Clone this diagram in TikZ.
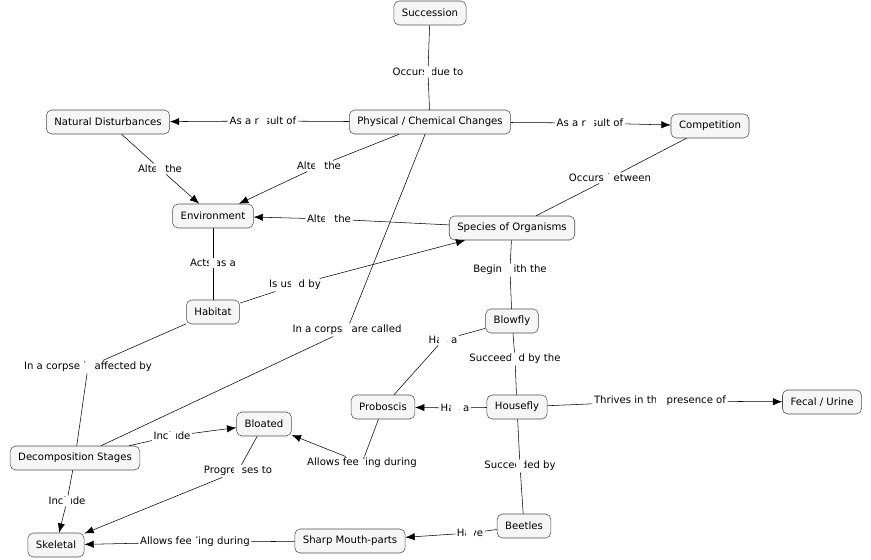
\documentclass[tikz,border=0pt]{standalone}
\usepackage{fontspec}
\setmainfont{DejaVu Sans}
\usetikzlibrary{arrows.meta}

\begin{document}
\begin{tikzpicture}[
  x=0.75pt, y=-0.75pt,
  concept/.style={
    draw=black!70,
    fill=cyan!4!gray!8,
    rounded corners=4pt,
    font=\fontsize{7.6pt}{9pt}\selectfont,
    inner xsep=6pt,
    minimum height=18pt,
  },
  link/.style={
    fill=white,
    inner sep=1pt,
    font=\fontsize{7.6pt}{9pt}\selectfont,
  },
  conn/.style={draw, thin},
  arr/.style={draw, thin, -{Latex[length=7pt,width=5.5pt]}},
]
\useasboundingbox (0,0) rectangle (871,560);

% Concepts
\node[concept] (succ) at (430,13) {Succession};
\node[concept] (phys) at (430,122) {Physical / Chemical Changes};
\node[concept] (natd) at (108,122) {Natural Disturbances};
\node[concept] (comp) at (710,126) {Competition};
\node[concept] (env) at (213,216) {Environment};
\node[concept] (spec) at (512,228) {Species of Organisms};
\node[concept] (hab) at (213,312) {Habitat};
\node[concept] (blow) at (512,321) {Blowfly};
\node[concept] (prob) at (383,407) {Proboscis};
\node[concept] (house) at (517,407) {Housefly};
\node[concept] (fecal) at (822,402) {Fecal / Urine};
\node[concept] (bloat) at (264,424) {Bloated};
\node[concept] (decomp) at (75,458) {Decomposition Stages};
\node[concept] (beet) at (524,526) {Beetles};
\node[concept] (sharp) at (350,541) {Sharp Mouth-parts};
\node[concept] (skel) at (56,545) {Skeletal};

% Linking phrases
\node[link] (l1) at (428,72) {Occurs due to};
\node[link] (l2) at (263,121) {As a result of};
\node[link] (l3) at (590,123) {As a result of};
\node[link] (l4) at (160,169) {Alter the};
\node[link] (l5) at (319,166) {Alter the};
\node[link] (l6) at (610,178) {Occurs between};
\node[link] (l7) at (329,219) {Alter the};
\node[link] (l8) at (213,263) {Acts as a};
\node[link] (l9) at (295,285) {Is used by};
\node[link] (l10) at (347,330) {In a corpse are called};
\node[link] (l11) at (510,270) {Begin with the};
\node[link] (l12) at (443,340) {Has a};
\node[link] (l13) at (515,359) {Succeeded by the};
\node[link] (l14) at (455,408) {Has a};
\node[link] (l15) at (660,401) {Thrives in the presence of};
\node[link] (l16) at (520,466) {Succeeded by};
\node[link] (l17) at (470,533) {Have};
\node[link] (l18) at (195,542) {Allows feeding during};
\node[link] (l19) at (362,463) {Allows feeding during};
\node[link] (l20) at (238,471) {Progresses to};
\node[link] (l21) at (172,436) {Include};
\node[link] (l22) at (67,501) {Include};
\node[link] (l23) at (88,367) {In a corpse is affected by};

% Connections
\begin{scope}[on background layer/.style={}]
\draw[conn] (succ) -- (l1) -- (phys);
\draw[conn] (phys) -- (l2); \draw[arr] (l2) -- (natd);
\draw[conn] (phys) -- (l3); \draw[arr] (l3) -- (comp);
\draw[conn] (natd) -- (l4); \draw[arr] (l4) -- (env);
\draw[conn] (phys) -- (l5); \draw[arr] (l5) -- (env);
\draw[conn] (comp) -- (l6) -- (spec);
\draw[conn] (spec) -- (l7); \draw[arr] (l7) -- (env);
\draw[conn] (env) -- (l8) -- (hab);
\draw[conn] (hab) -- (l9); \draw[arr] (l9) -- (spec);
\draw[conn] (phys) -- (l10) -- (decomp);
\draw[conn] (spec) -- (l11) -- (blow);
\draw[conn] (blow) -- (l12) -- (prob);
\draw[conn] (blow) -- (l13) -- (house);
\draw[conn] (house) -- (l14); \draw[arr] (l14) -- (prob);
\draw[conn] (house) -- (l15); \draw[arr] (l15) -- (fecal);
\draw[conn] (house) -- (l16) -- (beet);
\draw[conn] (beet) -- (l17); \draw[arr] (l17) -- (sharp);
\draw[conn] (sharp) -- (l18); \draw[arr] (l18) -- (skel);
\draw[conn] (prob) -- (l19); \draw[arr] (l19) -- (bloat);
\draw[conn] (bloat) -- (l20); \draw[arr] (l20) -- (skel);
\draw[conn] (decomp) -- (l21); \draw[arr] (l21) -- (bloat);
\draw[conn] (decomp) -- (l22); \draw[arr] (l22) -- (skel);
\draw[conn] (hab) -- (l23) -- (decomp);
\end{scope}

% Redraw labels on top of lines
\foreach \n in {l1,l2,l3,l4,l5,l6,l7,l8,l9,l10,l11,l12,l13,l14,l15,l16,l17,l18,l19,l20,l21,l22,l23}
  {\path (\n) node[link] {\phantom{x}};}
\end{tikzpicture}
\end{document}
